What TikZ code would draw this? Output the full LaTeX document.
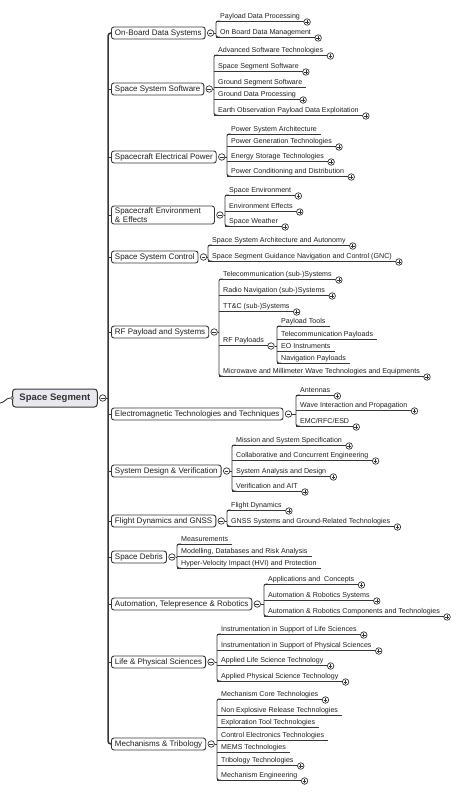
\documentclass[tikz,border=0pt]{standalone}
\usepackage{fontspec}
\setmainfont{Liberation Sans}
\usetikzlibrary{calc}
\definecolor{linec}{HTML}{363636}
\definecolor{rootfill}{HTML}{E8E8EE}
\tikzset{
  ln/.style={draw=linec, line width=0.9pt},
  trunk/.style={draw=linec, line width=1.5pt},
  rootbox/.style={draw=linec, fill=rootfill, rounded corners=3pt, line width=1pt,
    font=\fontsize{9.5}{11}\selectfont\bfseries, text=black!80, inner xsep=7pt, minimum height=18pt, anchor=west},
  topic/.style={draw=linec, fill=white, rounded corners=2.5pt, line width=0.9pt,
    font=\fontsize{8}{9.5}\selectfont, text=black!88, inner xsep=3.5pt, inner ysep=1.5pt, minimum height=12pt, anchor=west},
  leaf/.style={font=\fontsize{7.1}{8}\selectfont, text=black!88, inner xsep=4pt, inner ysep=0.6pt,
    text height=5.3pt, text depth=1.5pt, anchor=south west},
  circbase/.style={circle, draw=linec, line width=0.7pt, fill=white, minimum size=6.5pt, inner sep=0pt},
  minc/.style={circbase, path picture={\draw[linec,line width=0.6pt] ([xshift=1.4pt]path picture bounding box.west) -- ([xshift=-1.4pt]path picture bounding box.east);}},
  plusc/.style={circbase, path picture={\draw[linec,line width=0.6pt] ([xshift=1.4pt]path picture bounding box.west) -- ([xshift=-1.4pt]path picture bounding box.east) ([yshift=-1.4pt]path picture bounding box.north) -- ([yshift=1.4pt]path picture bounding box.south);}},
  dotc/.style={circle, draw=linec, line width=0.6pt, fill=white, minimum size=3pt, inner sep=0pt},
}
% name, x, y (underline), text
\newcommand{\mmleaf}[4]{\node[leaf] (#1) at (#2,#3) {#4};\draw[ln] (#1.south west) -- (#1.south east);}
\newcommand{\mmleafp}[4]{\mmleaf{#1}{#2}{#3}{#4}\node[plusc] (#1p) at ([xshift=3pt,yshift=-1pt]#1.south east) {};}
% name, y, text, bracket x
\newcommand{\mmtopic}[4]{\node[topic] (#1) at (111,#2) {#3};\node[minc] (#1m) at ([xshift=5pt]#1.east) {};\draw[ln] (#1m.east) -- (#4,#2);}
\newcommand{\mmbr}[2]{\draw[ln,rounded corners=2pt] ([xshift=4pt]#1.south west) -- (#1.south west) -- (#2.south west) -- ([xshift=4pt]#2.south west);}
\begin{document}
\begin{tikzpicture}[x=1pt,y=-1pt]
\useasboundingbox (0,0) rectangle (474,795);
\coordinate (tx) at (108,0);
% root
\node[rootbox] (root) at (12,398) {Space Segment};
\node[minc] (rootm) at ([xshift=5pt]root.east) {};
\node[dotc] (rdot) at (root.west) {};
\coordinate (ext) at (0,403);
\draw[ln] (ext) to[out=0,in=180] (rdot.west);
\draw[ln] (rootm.east) -- (rootm.east -| tx);

% level 1
\mmtopic{t1}{33}{On-Board Data Systems}{216}
\mmtopic{t2}{89}{Space System Software}{214}
\mmtopic{t3}{157}{Spacecraft Electrical Power}{227}
\node[topic, align=left, font=\fontsize{8}{9.2}\selectfont, inner ysep=1.5pt, text width=96pt] (t4) at (111,215) {Spacecraft Environment\\\& Effects};
\node[minc] (t4m) at ([xshift=5pt]t4.east) {};
\draw[ln] (t4m.east) -- (225,215);
\mmtopic{t5}{257}{Space System Control}{208}
\mmtopic{t6}{332}{RF Payload and Systems}{219}
\mmtopic{t7}{414}{Electromagnetic Technologies and Techniques}{296}
\mmtopic{t8}{471}{System Design \& Verification}{232}
\mmtopic{t9}{521}{Flight Dynamics and GNSS}{227}
\mmtopic{t10}{557}{Space Debris}{177}
\mmtopic{t11}{604}{Automation, Telepresence \& Robotics}{264}
\mmtopic{t12}{662}{Life \& Physical Sciences}{217}
\mmtopic{t13}{744}{Mechanisms \& Tribology}{217}

% trunk
\draw[trunk, rounded corners=3pt] (t1.west) -- (t1.west -| tx) -- (t13.west -| tx) -- (t13.west);
\foreach \t in {t2,t3,t4,t5,t6,t7,t8,t9,t10,t11,t12} {\draw[ln] (\t.west -| tx) -- (\t.west);}

% group 1
\mmleafp{a1}{216}{21}{Payload Data Processing}
\mmleafp{a2}{216}{37}{On Board Data Management}
\mmbr{a1}{a2}
% group 2
\mmleafp{b1}{214}{55}{Advanced Software Technologies}
\mmleafp{b2}{214}{71}{Space Segment Software}
\mmleaf{b3}{214}{87}{Ground Segment Software}
\mmleafp{b4}{214}{99}{Ground Data Processing}
\mmleafp{b5}{214}{115}{Earth Observation Payload Data Exploitation}
\mmbr{b1}{b5}
% group 3
\mmleaf{c1}{227}{134}{Power System Architecture}
\mmleafp{c2}{227}{146}{Power Generation Technologies}
\mmleafp{c3}{227}{161}{Energy Storage Technologies}
\mmleafp{c4}{227}{176}{Power Conditioning and Distribution}
\mmbr{c1}{c4}
% group 4
\mmleafp{d1}{225}{195}{Space Environment}
\mmleafp{d2}{225}{211}{Environment Effects}
\mmleafp{d3}{225}{226}{Space Weather}
\mmbr{d1}{d3}
% group 5
\mmleafp{e1}{208}{245}{Space System Architecture and Autonomy}
\mmleafp{e2}{208}{261}{Space Segment Guidance Navigation and Control (GNC)}
\mmbr{e1}{e2}
% group 6
\mmleafp{f1}{219}{279}{Telecommunication (sub-)Systems}
\mmleafp{f2}{219}{295}{Radio Navigation (sub-)Systems}
\mmleafp{f3}{219}{311}{TT\&C (sub-)Systems}
\mmleaf{f4}{219}{345}{RF Payloads}
\node[minc] (f4m) at ([xshift=3pt,yshift=-1pt]f4.south east) {};
\mmleafp{f5}{219}{376}{Microwave and Millimeter Wave Technologies and Equipments}
\mmbr{f1}{f5}
\mmleaf{g1}{277}{326}{Payload Tools}
\mmleaf{g2}{277}{339}{Telecommunication Payloads}
\mmleaf{g3}{277}{351}{EO Instruments}
\mmleaf{g4}{277}{363}{Navigation Payloads}
\mmbr{g1}{g4}
\draw[ln] (f4m.east) -- (f4m.east -| g1.south west);
% group 7
\mmleafp{h1}{296}{395}{Antennas}
\mmleafp{h2}{296}{410}{Wave Interaction and Propagation}
\mmleafp{h3}{296}{426}{EMC/RFC/ESD}
\mmbr{h1}{h3}
% group 8
\mmleafp{i1}{232}{445}{Mission and System Specification}
\mmleafp{i2}{232}{460}{Collaborative and Concurrent Engineering}
\mmleafp{i3}{232}{476}{System Analysis and Design}
\mmleafp{i4}{232}{491}{Verification and AIT}
\mmbr{i1}{i4}
% group 9
\mmleafp{j1}{227}{510}{Flight Dynamics}
\mmleafp{j2}{227}{526}{GNSS Systems and Ground-Related Technologies}
\mmbr{j1}{j2}
% group 10
\mmleaf{k1}{177}{544}{Measurements}
\mmleaf{k2}{177}{556}{Modelling, Databases and Risk Analysis}
\mmleaf{k3}{177}{568}{Hyper-Velocity Impact (HVI) and Protection}
\mmbr{k1}{k3}
% group 11
\mmleafp{l1}{264}{584}{Applications and~~Concepts}
\mmleafp{l2}{264}{600}{Automation \& Robotics Systems}
\mmleafp{l3}{264}{616}{Automation \& Robotics Components and Technologies}
\mmbr{l1}{l3}
% group 12
\mmleafp{m1}{217}{634}{Instrumentation in Support of Life Sciences}
\mmleafp{m2}{217}{650}{Instrumentation in Support of Physical Sciences}
\mmleafp{m3}{217}{665}{Applied Life Science Technology}
\mmleafp{m4}{217}{681}{Applied Physical Science Technology}
\mmbr{m1}{m4}
% group 13
\mmleafp{n1}{217}{699}{Mechanism Core Technologies}
\mmleaf{n2}{217}{715}{Non Explosive Release Technologies}
\mmleaf{n3}{217}{727}{Exploration Tool Technologies}
\mmleaf{n4}{217}{740}{Control Electronics Technologies}
\mmleaf{n5}{217}{752}{MEMS Technologies}
\mmleafp{n6}{217}{765}{Tribology Technologies}
\mmleafp{n7}{217}{780}{Mechanism Engineering}
\mmbr{n1}{n7}
\end{tikzpicture}
\end{document}
